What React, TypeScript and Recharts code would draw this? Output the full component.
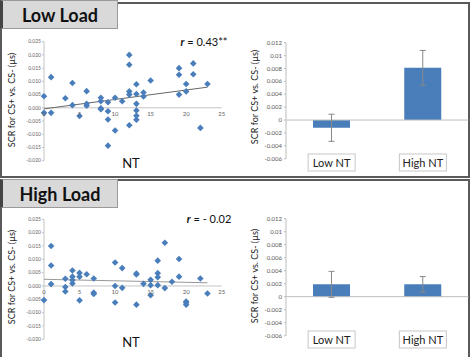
import React from 'react';
import { ComposedChart, Scatter, XAxis, YAxis, ReferenceLine, ReferenceDot, BarChart, Bar, ErrorBar } from 'recharts';

// [NT, SCR] pairs
const lowLoadPoints: [number, number][] = [
  [0, 0.0044], [0, -0.0019], [1, 0.0116], [1, -0.0019], [3, 0.0036], [4, 0.0094], [4, 0.001],
  [5, -0.0031], [6, 0.0063], [6, 0.0015], [6, 0.0008], [8, 0.0038], [8, 0.0025], [8, -0.0002],
  [8, -0.0005], [9, 0.0021], [9, -0.0013], [9, -0.0044], [9, -0.0143], [10, 0.0038], [10, -0.0086],
  [11, 0.0025], [12, 0.02], [12, 0.0163], [12, 0.0062], [12, 0.005], [12, -0.0066], [13, 0.0089],
  [13, 0.0052], [13, 0.0015], [13, -0.001], [13, -0.003], [13, -0.0045], [14, 0.0058], [14, 0.0043],
  [15, 0.0103], [19, 0.015], [19, 0.0125], [19, 0.005], [20, 0.009], [20, 0.0062], [21, 0.0168],
  [21, 0.0127], [22, -0.0076], [23, 0.009],
];
const highLoadPoints: [number, number][] = [
  [0, -0.0053], [1, 0.015], [1, 0.0077], [1, 0.0007], [3, 0.0027], [3, -0.0004], [3, -0.0021],
  [4, 0.0058], [4, 0.0035], [4, 0.0022], [4, 0.0009], [5, 0.0049], [5, 0.0035], [5, -0.0054],
  [6, 0.0044], [7, 0.0028], [7, -0.0025], [7, -0.003], [10, 0.0088], [10, 0], [10, -0.0062],
  [11, 0.0067], [11, -0.0007], [13, 0.0047], [13, 0.0043], [13, -0.007], [14, 0.0008], [15, 0.0023],
  [15, 0.0003], [15, -0.0035], [16, 0.0095], [16, 0.0048], [16, 0.0033], [16, 0.0003], [17, 0.0162],
  [17, -0.0008], [18, 0.0016], [19, 0.0101], [19, 0.0035], [20, -0.0058], [20, -0.0063], [20, -0.007],
  [22, 0.0028], [23, -0.0028],
];
const lowLoadTrend: [number, number][] = [[0, -0.0004], [23, 0.0078]];
const highLoadTrend: [number, number][] = [[0, 0.0025], [23, 0.0012]];

const scatterXTicks = [0, 5, 10, 15, 20, 25];
const scatterYTicks = [-0.02, -0.015, -0.01, -0.005, 0, 0.005, 0.01, 0.015, 0.02, 0.025];

const barCategories = ['Low NT', 'High NT'];
const lowLoadMeans = [-0.0012, 0.0081];
const lowLoadErrors = [0.0021, 0.0027];
const highLoadMeans = [0.0019, 0.0019];
const highLoadErrors = [0.002, 0.0012];
const barYTicks = [-0.006, -0.004, -0.002, 0, 0.002, 0.004, 0.006, 0.008, 0.01, 0.012];

const BLUE = '#4a7ebb';
const FONT = 'Lato, "Open Sans", sans-serif';
const Y_LABEL = 'SCR for CS+ vs. CS- (µs)';

const toRows = (pts: [number, number][]) => pts.map(([nt, scr]) => ({ nt, scr }));

const Diamond = (props: any) => {
  const { cx, cy } = props;
  if (cx == null || cy == null) return <g />;
  const s = 3.3;
  return <polygon points={`${cx},${cy - s} ${cx + s},${cy} ${cx},${cy + s} ${cx - s},${cy}`} fill={BLUE} />;
};

function RotLabel({ x, y, text }: { x: number; y: number; text: string }) {
  return (
    <div
      style={{
        position: 'absolute', left: x, top: y, transform: 'translate(-50%, -50%) rotate(-90deg)',
        whiteSpace: 'nowrap', fontFamily: FONT, fontSize: 9, color: '#222',
      }}
    >
      {text}
    </div>
  );
}

function ScatterPanel({ top, height, plotTop, plotBottom, points, trend, trendColor }: any) {
  return (
    <div style={{ position: 'absolute', left: 0, top, width: 240, height }}>
      <ComposedChart
        width={240}
        height={height}
        margin={{ top: plotTop, right: 18.3, bottom: height - plotBottom, left: 34 }}
      >
        <XAxis type="number" dataKey="nt" domain={[0, 25]} hide />
        <YAxis
          type="number"
          dataKey="scr"
          width={10}
          domain={[-0.02, 0.025]}
          ticks={scatterYTicks}
          interval={0}
          tickFormatter={(v) => v.toFixed(3)}
          tick={{ fontSize: 5, fill: '#666', fontFamily: FONT }}
          tickSize={2}
          tickMargin={1}
          stroke="#c4c4c4"
        />
        <ReferenceLine y={0} stroke="#c4c4c4" />
        {scatterXTicks.map((t) => (
          <ReferenceDot
            key={t}
            x={t}
            y={0}
            r={0}
            ifOverflow="visible"
            label={{ value: String(t), position: 'bottom', offset: 4, fontSize: 6, fill: '#666', fontFamily: FONT }}
          />
        ))}
        <Scatter data={toRows(trend)} line={{ stroke: trendColor, strokeWidth: 1 }} shape={() => <g />} isAnimationActive={false} />
        <Scatter data={toRows(points)} shape={Diamond} isAnimationActive={false} />
      </ComposedChart>
    </div>
  );
}

function CategoryTick({ x, y, payload }: any) {
  const w = 47;
  const h = 17;
  return (
    <g>
      <rect x={x - w / 2} y={y - 4.7} width={w} height={h} fill="#fff" stroke="#c8c8c8" />
      <text x={x} y={y - 4.7 + h / 2 + 4} textAnchor="middle" fontSize={11} fontFamily={FONT} fill="#222">
        {payload.value}
      </text>
    </g>
  );
}

function BarPanel({ top, height, plotTop, plotBottom, means, errors }: any) {
  const data = barCategories.map((name, i) => ({ name, mean: means[i], err: errors[i] }));
  return (
    <div style={{ position: 'absolute', left: 230, top, width: 244, height }}>
      <BarChart
        width={244}
        height={height}
        data={data}
        barCategoryGap="30%"
        margin={{ top: plotTop, right: 5.5, bottom: 0, left: 0 }}
      >
        <XAxis
          dataKey="name"
          height={height - plotBottom}
          axisLine={false}
          tickLine={false}
          tickSize={0}
          tickMargin={0}
          tick={<CategoryTick />}
          interval={0}
        />
        <YAxis
          width={56}
          domain={[-0.006, 0.012]}
          ticks={barYTicks}
          interval={0}
          tickFormatter={(v) => String(Number(v.toFixed(3)))}
          tick={{ fontSize: 6, fill: '#555', fontFamily: FONT }}
          tickSize={2}
          tickMargin={2}
          stroke="#bdbdbd"
        />
        <ReferenceLine y={0} stroke="#bdbdbd" />
        <Bar dataKey="mean" fill={BLUE} barSize={37} isAnimationActive={false}>
          <ErrorBar dataKey="err" width={3} stroke="#888" strokeWidth={1} direction="y" />
        </Bar>
      </BarChart>
    </div>
  );
}

function Title({ top, text }: { top: number; text: string }) {
  return (
    <div
      style={{
        position: 'absolute', left: 0, top, width: 114, height: 27, background: '#d9d9d9',
        border: '1px solid #9a9a9a', borderLeft: '3px solid #444', display: 'flex',
        alignItems: 'center', justifyContent: 'center', fontFamily: FONT, fontWeight: 700,
        fontSize: 18, color: '#111',
      }}
    >
      {text}
    </div>
  );
}

function Frame({ top, height }: { top: number; height: number }) {
  return (
    <div
      style={{
        position: 'absolute', left: 0, top, width: 466, height, border: '2px solid #5a5a5a',
        boxSizing: 'content-box',
      }}
    />
  );
}

function RText({ x, y, value }: { x: number; y: number; value: string }) {
  return (
    <div
      style={{
        position: 'absolute', left: x, top: y, transform: 'translate(-50%, -50%)', whiteSpace: 'nowrap',
        fontFamily: FONT, fontSize: 11, color: '#111',
      }}
    >
      <i style={{ fontWeight: 700 }}>r</i> = {value}
    </div>
  );
}

function AxisTitle({ x, y, text }: { x: number; y: number; text: string }) {
  return (
    <div
      style={{
        position: 'absolute', left: x, top: y, transform: 'translate(-50%, -50%)', fontFamily: FONT,
        fontSize: 13, color: '#111',
      }}
    >
      {text}
    </div>
  );
}

export default function App() {
  return (
    <div style={{ position: 'absolute', left: 0, top: 0, width: 474, height: 357, background: '#fff', overflow: 'hidden' }}>
      <Frame top={2} height={172} />
      <Frame top={179} height={190} />

      <ScatterPanel top={0} height={180} plotTop={41.7} plotBottom={160.7} points={lowLoadPoints} trend={lowLoadTrend} trendColor="#666" />
      <BarPanel top={0} height={180} plotTop={42.7} plotBottom={158.7} means={lowLoadMeans} errors={lowLoadErrors} />
      <ScatterPanel top={175} height={182} plotTop={44.3} plotBottom={164.3} points={highLoadPoints} trend={highLoadTrend} trendColor="#999" />
      <BarPanel top={175} height={182} plotTop={43.7} plotBottom={160.7} means={highLoadMeans} errors={highLoadErrors} />

      <Title top={0} text="Low Load" />
      <Title top={179} text="High Load" />

      <RotLabel x={11} y={100} text={Y_LABEL} />
      <RotLabel x={11} y={277} text={Y_LABEL} />
      <RotLabel x={254} y={97} text={Y_LABEL} />
      <RotLabel x={254} y={276} text={Y_LABEL} />

      <RText x={204} y={41} value="0.43**" />
      <RText x={209} y={218} value="- 0.02" />

      <AxisTitle x={131} y={163} text="NT" />
      <AxisTitle x={131} y={342} text="NT" />
    </div>
  );
}
